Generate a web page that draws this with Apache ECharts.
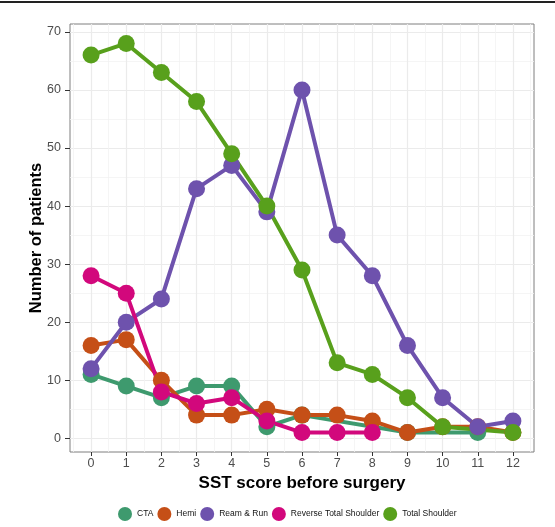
<!DOCTYPE html>
<html>
<head>
<meta charset="utf-8">
<script src="https://cdn.jsdelivr.net/npm/echarts@6/dist/echarts.min.js"></script>
<style>
  html, body { margin: 0; padding: 0; background: #fff; }
  #chart { width: 555px; height: 527px; }
</style>
</head>
<body>
<div id="chart"></div>
<script>
// SST score (x) vs number of patients (y), one array of [score, count] per implant type
const xTicks = [0, 1, 2, 3, 4, 5, 6, 7, 8, 9, 10, 11, 12];
const xMinor = [-0.5, 0.5, 1.5, 2.5, 3.5, 4.5, 5.5, 6.5, 7.5, 8.5, 9.5, 10.5, 11.5, 12.5];
const yTicks = [0, 10, 20, 30, 40, 50, 60, 70];
const yMinor = [5, 15, 25, 35, 45, 55, 65];

const cta = [[0, 11], [1, 9], [2, 7], [3, 9], [4, 9], [5, 2], [6, 4], [9, 1], [11, 1]];
const hemi = [[0, 16], [1, 17], [2, 10], [3, 4], [4, 4], [5, 5], [6, 4], [7, 4], [8, 3], [9, 1], [10, 2], [11, 2], [12, 1]];
const reamRun = [[0, 12], [1, 20], [2, 24], [3, 43], [4, 47], [5, 39], [6, 60], [7, 35], [8, 28], [9, 16], [10, 7], [11, 2], [12, 3]];
const reverseTotal = [[0, 28], [1, 25], [2, 8], [3, 6], [4, 7], [5, 3], [6, 1], [7, 1], [8, 1]];
const totalShoulder = [[0, 66], [1, 68], [2, 63], [3, 58], [4, 49], [5, 40], [6, 29], [7, 13], [8, 11], [9, 7], [10, 2], [12, 1]];

const groups = [
  { name: 'CTA', data: cta, color: '#3e9a6e' },
  { name: 'Hemi', data: hemi, color: '#c54f17' },
  { name: 'Ream & Run', data: reamRun, color: '#6e52ad' },
  { name: 'Reverse Total Shoulder', data: reverseTotal, color: '#d2087c' },
  { name: 'Total Shoulder', data: totalShoulder, color: '#58a01c' }
];

const font = '"Liberation Sans", Arial, sans-serif';
const gridCol = '#ebebeb';

const chart = echarts.init(document.getElementById('chart'));

chart.setOption({
  animation: false,
  textStyle: { fontFamily: font },
  graphic: [{
    type: 'line',
    shape: { x1: 0, y1: 2, x2: 555, y2: 2 },
    style: { stroke: '#222', lineWidth: 2 }
  }],
  grid: {
    left: 70, right: 21, top: 24, bottom: 75,
    show: true, borderColor: '#7f7f7f', borderWidth: 1
  },
  legend: {
    bottom: 1,
    left: 113,
    icon: 'circle',
    itemWidth: 14,
    itemHeight: 14,
    itemGap: 4,
    textStyle: { fontSize: 8.5, color: '#111', fontFamily: font },
    data: groups.map(g => g.name)
  },
  xAxis: [{
    type: 'value', min: -0.6, max: 12.6,
    name: 'SST score before surgery',
    nameLocation: 'middle', nameGap: 22,
    nameTextStyle: { fontSize: 17, fontWeight: 'bold', color: '#000', fontFamily: font },
    axisLine: { show: false, onZero: false },
    axisTick: { show: true, customValues: xTicks, length: 4, lineStyle: { color: '#333' } },
    axisLabel: { customValues: xTicks, fontSize: 12.5, color: '#4d4d4d', margin: 5 },
    splitLine: { show: true, lineStyle: { color: gridCol, width: 1.2 } }
  }, {
    type: 'value', min: -0.6, max: 12.6, position: 'bottom',
    axisLine: { show: false, onZero: false },
    axisTick: { show: false, customValues: xMinor },
    axisLabel: { show: false, customValues: xMinor },
    splitLine: { show: true, lineStyle: { color: '#f3f3f3', width: 0.8 } }
  }],
  yAxis: [{
    type: 'value', min: -2.35, max: 71.35,
    name: 'Number of patients',
    nameLocation: 'middle', nameGap: 25, nameMoveOverlap: false,
    nameTextStyle: { fontSize: 16.5, fontWeight: 'bold', color: '#000', fontFamily: font },
    axisLine: { show: false, onZero: false },
    axisTick: { show: true, customValues: yTicks, length: 5, lineStyle: { color: '#333' } },
    axisLabel: { customValues: yTicks, fontSize: 12.5, color: '#4d4d4d', margin: 9 },
    splitLine: { show: true, lineStyle: { color: gridCol, width: 1.2 } }
  }, {
    type: 'value', min: -2.35, max: 71.35, position: 'left',
    axisLine: { show: false, onZero: false },
    axisTick: { show: false, customValues: yMinor },
    axisLabel: { show: false, customValues: yMinor },
    splitLine: { show: true, lineStyle: { color: '#f3f3f3', width: 0.8 } }
  }],
  series: groups.map(g => ({
    name: g.name,
    type: 'line',
    data: g.data,
    symbol: 'circle',
    symbolSize: 17,
    showSymbol: true,
    color: g.color,
    itemStyle: { color: g.color },
    lineStyle: { color: g.color, width: 4 },
    emphasis: { disabled: true }
  }))
});
</script>
</body>
</html>
